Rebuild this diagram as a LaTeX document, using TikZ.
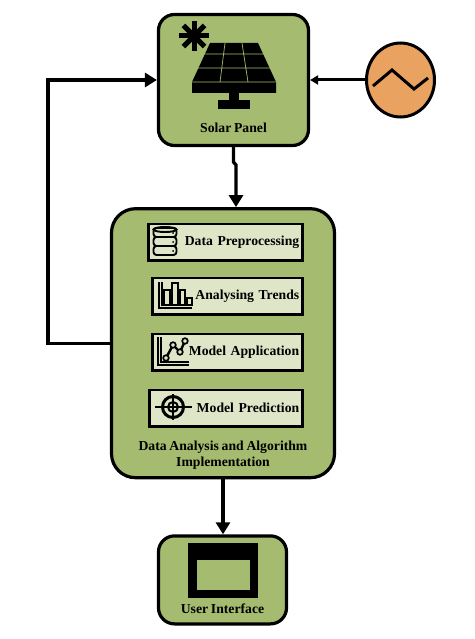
\documentclass[tikz,border=0pt]{standalone}
\usepackage{fontspec}
\setmainfont[WordSpace=0.8]{Liberation Serif}
\usetikzlibrary{arrows.meta,positioning,shapes.geometric}
\definecolor{panelgreen}{HTML}{A5BB6F}
\definecolor{stepfill}{HTML}{DFE6C8}
\definecolor{srcorange}{HTML}{E9A25F}
\begin{document}
\begin{tikzpicture}[x=1pt,y=-1pt,font=\bfseries\fontsize{13.7}{16}\selectfont,
block/.style={draw=black,line width=3.2pt,rounded corners=16pt,fill=panelgreen,align=center},
stepbox/.style={draw=black,line width=2.8pt,fill=stepfill,minimum height=36.2pt,inner xsep=3.4pt,inner ysep=0pt,align=right},
lbl/.style={align=center,inner sep=0pt},
arr/.style={-{Triangle[length=12pt,width=14pt]},line width=3.3pt},
ico/.style={line width=1.9pt},
bar/.style={draw=black,line width=1.6pt,fill=stepfill}]
\useasboundingbox (0,0) rectangle (474,639);
\node[block,minimum width=150pt,minimum height=131pt] (solar) at (233.5,80) {};
\node[block,rounded corners=24pt,minimum width=223pt,minimum height=269pt,below=60pt of solar,xshift=-10.5pt] (main) {};
\node[block,minimum width=128pt,minimum height=88pt,below=55pt of main,xshift=-.5pt] (ui) {};
\node[draw=black,line width=3pt,fill=srcorange,ellipse,minimum width=68pt,minimum height=74pt,inner sep=0pt] (src) at (400.5,80) {};
% steps
\node[stepbox,text width=147.4pt] (prep) at (225.5,242) {Data Preprocessing};
\node[stepbox,text width=143.4pt,below=15pt of prep.south east,anchor=north east] (trend) {Analysing Trends};
\node[stepbox,text width=143.4pt,below=17pt of trend.south east,anchor=north east] (appl) {Model Application};
\node[stepbox,text width=146.4pt,below=17pt of appl.south east,anchor=north east] (pred) {Model Prediction};
\node[lbl,above=10pt of main.south] (mainlbl) {Data Analysis and Algorithm\\Implementation};
\node[lbl,above=14pt of solar.south] (solarlbl) {Solar Panel};
\node[lbl,above=12pt of ui.south] (uilbl) {User Interface};
% connectors
\coordinate (jog) at (236,165);
\coordinate (fbk) at (48,80);
\draw[arr] (solar.south) -- ++(0,15) -- (jog) -- (jog |- main.north);
\draw[arr] (main.south) -- (main.south |- ui.north);
\draw[arr] (main.west) -| (fbk) -- (solar.west);
\draw[-{Triangle[length=8pt,width=9pt]},line width=3pt] (src) -- (solar.east);
% wave
\draw[line width=3pt,line join=miter] (373,86) -- (392,70) -- (414,89) -- (428,78);
% sun
\foreach \a in {0,45,...,315}
  \draw[line width=5pt] (194,36) -- ++(\a:15);
% panel
\fill (210,43) -- (258,43) -- (276,82) -- (276,93) -- (192,93) -- (192,82) -- cycle;
\fill (229,93) rectangle (239,100);
\fill (218,100) rectangle (250,109);
\draw[panelgreen,line width=.7pt] (204,54) -- (264,54) (198,68) -- (270,68) (192,82) -- (276,82)
  (225,43) -- (220,82) (242,43) -- (248,82);
% database
\foreach \y in {228,237,246}
  \draw[ico,rounded corners=3pt] (153.5,\y) rectangle (176.5,\y+9);
\draw[ico] (165,229.5) ellipse (11.5pt and 2.5pt);
\foreach \y in {233,242,251}
  \fill (173,\y) circle (1pt);
% bars
\draw[ico] (159,282) -- (159,308) -- (192,308) (162,282) -- (162,305) -- (192,305);
\draw[bar] (164,290) rectangle (170,305);
\draw[bar] (172,283) rectangle (178,305);
\draw[bar] (180,290) rectangle (185,305);
\draw[bar] (187,298) rectangle (192,305);
% line graph
\draw[ico] (158,337) -- (158,365) -- (189,365) (161,337) -- (161,362) -- (189,362);
\draw[line width=2.4pt] (166,358) -- (173,345) -- (180,352) -- (185,341);
\foreach \p in {(166,358),(173,345),(180,352),(185,341)}
  \draw[line width=1.7pt,fill=stepfill] \p circle (2.8pt);
% target
\draw[line width=3pt] (173,407) circle (10.5pt);
\draw[line width=2pt] (173,407) circle (5pt);
\fill (173,407) circle (1.8pt);
\draw[line width=2.4pt] (155,407) -- (192,407) (173,394) -- (173,420);
% screen
\fill (188,543) rectangle (258,598);
\fill[panelgreen] (197,560) rectangle (250,590);
\end{tikzpicture}
\end{document}
